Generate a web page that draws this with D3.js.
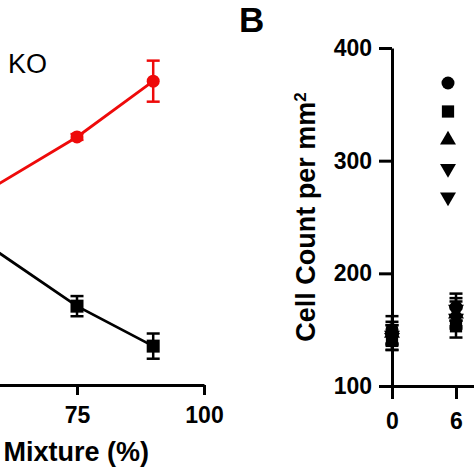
<!DOCTYPE html>
<html>
<head>
<meta charset="utf-8">
<script src="https://cdn.jsdelivr.net/npm/d3@7"></script>
<style>
  body { margin: 0; background: #fff; }
  text { font-family: Arial, "Liberation Sans", sans-serif; }
</style>
</head>
<body>
<div class="chart"></div>
<script>
// Panel A data (mixture %)
const mixPct = [50, 75, 90];
const koMean = [47.8, 68.9, 84.4];
const koErr = [1.5, 0.8, 5.7];
const wtMean = [46.0, 21.9, 10.8];
const wtErr = [1.5, 2.8, 3.5];
const mixTicks = [75, 100];

// Panel B data (cell count per mm2)
const days = [0, 6];
const shapes = ["circle", "square", "triangle", "triangleDown", "triangleDown"];
const countMean = [
  [150, 170],
  [140, 153],
  [147, 164],
  [145, 160],
  [143, 168]
];
const countErr = [
  [12, 12],
  [8, 10],
  [10, 11],
  [9, 9],
  [11, 10]
];
const countTicks = [100, 200, 300, 400];
const dayTicks = [0, 6];

const W = 474, H = 474;
const red = "#ee0a0a";

var svg = d3.select(".chart")
  .append("svg")
  .attr("width", W)
  .attr("height", H);

// ---------- Panel A ----------
var xA = d3.scaleLinear().domain([0, 100]).range([-304, 204]);
var yA = d3.scaleLinear().domain([0, 100]).range([385, 25]);

var axA = svg.append("g")
  .attr("transform", "translate(0," + yA(0) + ")")
  .call(d3.axisBottom(xA).tickValues(mixTicks).tickSize(10).tickSizeOuter(0).tickPadding(12));
axA.select(".domain").attr("stroke-width", 3);
axA.selectAll(".tick line").attr("stroke-width", 3);
axA.selectAll(".tick text")
  .style("font-size", "23px")
  .style("font-weight", "bold")
  .attr("fill", "#000");

svg.append("text")
  .attr("x", 149)
  .attr("y", 461)
  .attr("text-anchor", "end")
  .style("font-size", "27px")
  .style("font-weight", "bold")
  .text("Mixture (%)");

svg.append("text")
  .attr("x", 8)
  .attr("y", 73)
  .style("font-size", "27px")
  .text("KO");

var koData = mixPct.map((m, i) => ({x: m, y: koMean[i], e: koErr[i]}));
var wtData = mixPct.map((m, i) => ({x: m, y: wtMean[i], e: wtErr[i]}));

var line = d3.line()
  .x(d => xA(d.x))
  .y(d => yA(d.y));

function errorBars(data, color) {
  var g = svg.append("g").attr("stroke", color).attr("stroke-width", 2.5);
  data.forEach(d => {
    var cx = xA(d.x);
    g.append("line").attr("x1", cx).attr("x2", cx)
      .attr("y1", yA(d.y - d.e)).attr("y2", yA(d.y + d.e));
    [d.y - d.e, d.y + d.e].forEach(v => {
      g.append("line").attr("x1", cx - 6.5).attr("x2", cx + 6.5)
        .attr("y1", yA(v)).attr("y2", yA(v));
    });
  });
}

svg.append("path")
  .attr("d", line(koData))
  .attr("fill", "none")
  .attr("stroke", red)
  .attr("stroke-width", 2.8);
errorBars(koData, red);
svg.selectAll(".ko-dot")
  .data(koData)
  .enter().append("circle")
  .attr("cx", d => xA(d.x))
  .attr("cy", d => yA(d.y))
  .attr("r", 6.5)
  .attr("fill", red);

svg.append("path")
  .attr("d", line(wtData))
  .attr("fill", "none")
  .attr("stroke", "#000")
  .attr("stroke-width", 2.8);
errorBars(wtData, "#000");
svg.selectAll(".wt-dot")
  .data(wtData)
  .enter().append("rect")
  .attr("x", d => xA(d.x) - 6.5)
  .attr("y", d => yA(d.y) - 6.5)
  .attr("width", 13)
  .attr("height", 13)
  .attr("fill", "#000");

// ---------- Panel B ----------
svg.append("text")
  .attr("x", 239)
  .attr("y", 32)
  .style("font-size", "35px")
  .style("font-weight", "bold")
  .text("B");

var xB = d3.scaleLinear().domain([0, 12]).range([392, 520]);
var yB = d3.scaleLinear().domain([100, 400]).range([386, 48]);

var axBy = svg.append("g")
  .attr("transform", "translate(" + xB(0) + ",0)")
  .call(d3.axisLeft(yB).tickValues(countTicks).tickSize(13).tickSizeOuter(0).tickPadding(7));
var axBx = svg.append("g")
  .attr("transform", "translate(0," + yB(100) + ")")
  .call(d3.axisBottom(xB).tickValues(dayTicks).tickSize(13).tickSizeOuter(0).tickPadding(14));
[axBy, axBx].forEach(a => {
  a.select(".domain").attr("stroke-width", 3);
  a.selectAll(".tick line").attr("stroke-width", 3);
  a.selectAll(".tick text")
    .style("font-size", "23px")
    .style("font-weight", "bold")
    .attr("fill", "#000");
});

var ylab = svg.append("text")
  .attr("transform", "translate(315," + yB(250) + ")rotate(-90)")
  .attr("text-anchor", "middle")
  .style("font-size", "27px")
  .style("font-weight", "bold");
ylab.append("tspan").text("Cell Count per mm");
ylab.append("tspan").attr("baseline-shift", "super").style("font-size", "17px").text("2");

var symType = {
  circle: d3.symbolCircle,
  square: d3.symbolSquare,
  triangle: d3.symbolTriangle,
  triangleDown: d3.symbolTriangle
};
var symSize = {circle: 133, square: 150, triangle: 110, triangleDown: 110};

function symbolPath(s) {
  return d3.symbol().type(symType[s]).size(symSize[s])();
}

// error bars then markers
shapes.forEach((s, i) => {
  var g = svg.append("g");
  days.forEach((d, j) => {
    var cx = xB(d), m = countMean[i][j], e = countErr[i][j];
    g.append("line").attr("x1", cx).attr("x2", cx)
      .attr("y1", yB(m - e)).attr("y2", yB(m + e))
      .attr("stroke", "#000").attr("stroke-width", 2.5);
    [m - e, m + e].forEach(v => {
      g.append("line").attr("x1", cx - 6.5).attr("x2", cx + 6.5)
        .attr("y1", yB(v)).attr("y2", yB(v))
        .attr("stroke", "#000").attr("stroke-width", 2.5);
    });
  });
});
shapes.forEach((s, i) => {
  days.forEach((d, j) => {
    svg.append("path")
      .attr("d", symbolPath(s))
      .attr("transform", "translate(" + xB(d) + "," + yB(countMean[i][j]) + ")" + (s === "triangleDown" ? "rotate(180)" : ""))
      .attr("fill", "#000");
  });
});

// legend symbols (labels fall outside the frame)
shapes.forEach((s, i) => {
  svg.append("path")
    .attr("d", symbolPath(s))
    .attr("transform", "translate(448," + (83 + i * 28.5) + ")" + (s === "triangleDown" ? "rotate(180)" : ""))
    .attr("fill", "#000");
});
</script>
</body>
</html>
